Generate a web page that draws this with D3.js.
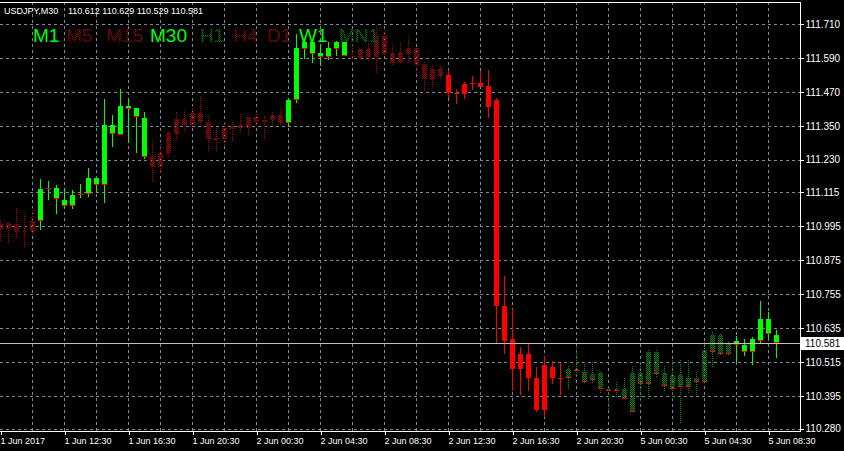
<!DOCTYPE html>
<html>
<head>
<meta charset="utf-8">
<script src="https://cdn.jsdelivr.net/npm/d3@7"></script>
<style>
  body { margin: 0; background: #000; }
  svg { display: block; }
  text { font-family: "Liberation Sans", Arial, sans-serif; }
</style>
</head>
<body>
<script>
// candle data, USDJPY M30, bar 0 = leftmost
var open = [111.006,110.984,111.002,110.977,110.974,111.013,111.129,111.129,111.087,111.066,
  111.105,111.108,111.165,111.140,111.353,111.317,111.420,111.413,111.377,111.243,
  111.204,111.250,111.321,111.374,111.353,111.395,111.363,111.306,111.303,111.338,
  111.342,111.342,111.381,111.363,111.370,111.388,111.360,111.441,111.622,111.646,
  111.607,111.593,111.622,111.646,111.597,111.590,111.622,111.593,111.668,111.607,
  111.572,111.604,111.625,111.568,111.512,111.551,111.530,111.466,111.462,111.498,
  111.501,111.491,111.441,110.712,110.595,110.489,110.545,110.460,110.347,110.499,
  110.460,110.460,110.489,110.478,110.450,110.475,110.421,110.414,110.418,110.340,
  110.475,110.439,110.549,110.475,110.421,110.468,110.425,110.457,110.446,110.552,
  110.609,110.545,110.588,110.574,110.552,110.591,110.666,110.612];
var high = [111.016,111.013,111.062,111.037,111.062,111.161,111.154,111.140,111.129,111.122,
  111.144,111.200,111.165,111.445,111.388,111.480,111.448,111.413,111.399,111.299,
  111.292,111.328,111.402,111.406,111.420,111.455,111.388,111.345,111.363,111.363,
  111.395,111.381,111.406,111.388,111.402,111.416,111.448,111.675,111.660,111.646,
  111.639,111.646,111.650,111.646,111.639,111.622,111.646,111.707,111.689,111.636,
  111.639,111.668,111.629,111.579,111.561,111.561,111.547,111.480,111.505,111.526,
  111.544,111.547,111.448,110.818,110.701,110.567,110.577,110.499,110.535,110.517,
  110.510,110.503,110.570,110.517,110.514,110.478,110.432,110.443,110.460,110.503,
  110.514,110.556,110.556,110.503,110.521,110.521,110.521,110.478,110.591,110.620,
  110.613,110.588,110.606,110.598,110.602,110.729,110.691,110.629];
var low = [110.938,110.935,110.952,110.917,110.963,110.981,111.087,111.037,111.059,111.055,
  111.094,111.098,111.112,111.076,111.275,111.317,111.289,111.253,111.232,111.154,
  111.183,111.239,111.299,111.331,111.349,111.353,111.260,111.257,111.278,111.296,
  111.331,111.317,111.349,111.303,111.349,111.349,111.345,111.430,111.586,111.572,
  111.561,111.583,111.597,111.597,111.583,111.586,111.579,111.533,111.600,111.565,
  111.572,111.572,111.537,111.473,111.487,111.515,111.448,111.427,111.445,111.476,
  111.487,111.377,110.584,110.542,110.414,110.400,110.414,110.340,110.319,110.439,
  110.397,110.421,110.460,110.439,110.436,110.404,110.344,110.390,110.379,110.337,
  110.375,110.383,110.460,110.411,110.383,110.301,110.404,110.397,110.446,110.496,
  110.538,110.535,110.514,110.535,110.506,110.584,110.595,110.529];
var close = [110.984,111.006,110.974,110.976,111.013,111.126,111.128,111.091,111.066,111.105,
  111.108,111.165,111.140,111.353,111.321,111.420,111.409,111.381,111.239,111.204,
  111.253,111.324,111.374,111.353,111.395,111.363,111.303,111.299,111.342,111.345,
  111.353,111.381,111.363,111.370,111.388,111.360,111.441,111.625,111.646,111.604,
  111.593,111.625,111.646,111.597,111.593,111.622,111.593,111.668,111.604,111.572,
  111.607,111.625,111.565,111.515,111.551,111.526,111.466,111.465,111.498,111.501,
  111.487,111.416,110.712,110.591,110.489,110.545,110.457,110.347,110.503,110.460,
  110.459,110.489,110.482,110.446,110.471,110.418,110.414,110.418,110.383,110.475,
  110.439,110.549,110.471,110.429,110.468,110.425,110.457,110.443,110.556,110.609,
  110.545,110.584,110.574,110.552,110.595,110.666,110.613,110.581];
// indicator state per bar: up = lime, wd = weak down, dn = down, wu = weak up
var state = ["wd","wd","wd","wd","wd",
  "up","up","up","up","up","up","up","up","up","up","up","up","up","up",
  "wd","wd","wd","wd","wd","wd","wd","wd","wd","wd","wd","wd","wd","wd","wd","wd","wd",
  "up","up","up","up","up","up","up","up",
  "wd","wd","wd","wd","wd","wd","wd","wd","wd","wd","wd","wd",
  "dn","dn","dn","dn","dn","dn","dn","dn","dn","dn","dn","dn","dn","dn","dn",
  "wu","wu","wu","wu","wu","wu","wu","wu","wu","wu","wu","wu","wu","wu","wu","wu","wu","wu","wu","wu","wu",
  "up","up","up","up","up","up"];

var priceTicks = [111.710,111.590,111.470,111.350,111.230,111.115,110.995,110.875,110.755,110.635,110.515,110.395,110.280];
var timeTicks = [0,8,16,24,32,40,48,56,64,72,80,88,96];
var timeLabels = ["1 Jun 2017","1 Jun 12:30","1 Jun 16:30","1 Jun 20:30","2 Jun 00:30","2 Jun 04:30",
  "2 Jun 08:30","2 Jun 12:30","2 Jun 16:30","2 Jun 20:30","5 Jun 00:30","5 Jun 04:30","5 Jun 08:30"];
var tfNames = ["M1","M5","M15","M30","H1","H4","D1","W1","MN1"];
var tfState = ["up","wd","wd","up","wu","wd","wd","up","wu"];
var symbol = "USDJPY,M30";
var bid = 110.581;

// layout
var W = 844, H = 451, plotR = 800, plotT = 2, plotB = 431;
var tfX = [33,66,106,150,200,233,267,299,339];
var gridColor = "#778899";

var xScale = d3.scaleLinear().domain([0, 100]).range([0, 800]);
var yScale = d3.scaleLinear().domain([110.280, 111.710]).range([428.5, 24]);

var svg = d3.select("body").append("svg")
    .attr("width", W).attr("height", H)
    .attr("shape-rendering", "crispEdges");
svg.append("rect").attr("width", W).attr("height", H).attr("fill", "#000");

// checker fills (MT4 dithered dark colours)
var defs = svg.append("defs");
function checker(id, col) {
    var p = defs.append("pattern").attr("id", id)
        .attr("width", 2).attr("height", 2).attr("patternUnits", "userSpaceOnUse");
    p.append("rect").attr("x", 0).attr("y", 0).attr("width", 1).attr("height", 1).attr("fill", col);
    p.append("rect").attr("x", 1).attr("y", 1).attr("width", 1).attr("height", 1).attr("fill", col);
}
checker("chkR", "#b80000");
checker("chkG", "#009a00");
var fillOf = { up: "#00ff00", dn: "#ff0000", wd: "url(#chkR)", wu: "url(#chkG)" };

// grid
var grid = svg.append("g").attr("stroke", gridColor).attr("stroke-dasharray", "3,3");
grid.selectAll("line.h").data(priceTicks).enter().append("line")
    .attr("x1", 0).attr("x2", plotR)
    .attr("y1", d => Math.round(yScale(d)) + 0.5)
    .attr("y2", d => Math.round(yScale(d)) + 0.5);
grid.selectAll("line.v").data(d3.range(4, 100, 4)).enter().append("line")
    .attr("x1", d => xScale(d) + 0.5).attr("x2", d => xScale(d) + 0.5)
    .attr("y1", plotT).attr("y2", plotB);

// candles
var bars = svg.append("g");
open.forEach(function(o, i) {
    var c = close[i], s = state[i];
    var x = xScale(i);
    var yH = Math.round(yScale(high[i])), yL = Math.round(yScale(low[i]));
    var yT = Math.round(yScale(Math.max(o, c))), yB = Math.round(yScale(Math.min(o, c)));
    var hb = Math.max(1, yB - yT);
    bars.append("rect").attr("x", x).attr("y", yH).attr("width", 1)
        .attr("height", Math.max(1, yL - yH)).attr("fill", fillOf[s]);
    bars.append("rect").attr("x", x - 2).attr("y", yT).attr("width", 5)
        .attr("height", hb).attr("fill", fillOf[s]);
    if (s == "up" || s == "wu") {
        bars.append("rect").attr("x", x - 2).attr("y", yT + hb - 1).attr("width", 5)
            .attr("height", 1).attr("fill", "#ff0000");
    }
});

// bid line
var yBid = Math.round(yScale(bid));
svg.append("line").attr("x1", 0).attr("x2", plotR)
    .attr("y1", yBid + 0.5).attr("y2", yBid + 0.5).attr("stroke", "#c0c0c0");

// frame
svg.append("path").attr("d", "M0," + (plotT + 0.5) + "H" + (plotR + 0.5) + "V" + (plotB + 0.5) + "H0")
    .attr("fill", "none").attr("stroke", "#fff");

// price axis
var yAxis = svg.append("g").attr("transform", "translate(" + (plotR + 0.5) + ",0)")
    .call(d3.axisRight(yScale).tickValues(priceTicks).tickFormat(d3.format(".3f"))
        .tickSize(3).tickPadding(2));
yAxis.select(".domain").remove();
yAxis.selectAll("line").attr("stroke", "#fff");
yAxis.selectAll("text").attr("fill", "#fff").style("font-size", "10px")
    .style("font-family", "'Liberation Sans', Arial, sans-serif");

// bid label
svg.append("rect").attr("x", plotR + 1).attr("y", yBid - 6).attr("width", W - plotR - 1)
    .attr("height", 13).attr("fill", "#fff");
svg.append("text").attr("x", plotR + 5).attr("y", yBid + 4).attr("fill", "#000")
    .style("font-size", "10px").text(d3.format(".3f")(bid));

// time axis
var xAxis = svg.append("g").attr("transform", "translate(0," + (plotB + 0.5) + ")")
    .call(d3.axisBottom(xScale).tickValues(timeTicks).tickFormat((d, i) => timeLabels[i])
        .tickSize(3).tickPadding(3));
xAxis.select(".domain").remove();
xAxis.selectAll("line").attr("stroke", "#fff").attr("transform", "translate(0.5,0)");
xAxis.selectAll("text").attr("fill", "#fff").attr("text-anchor", "start").attr("dx", 0)
    .style("font-size", "9px").style("font-family", "'Liberation Sans', Arial, sans-serif");

// header
svg.append("text").attr("x", 4).attr("y", 14).attr("fill", "#fff").style("font-size", "9px")
    .text(symbol);
svg.append("text").attr("x", 68).attr("y", 14).attr("fill", "#fff").style("font-size", "9px")
    .text([open[97], high[97], low[97], close[97]].map(d3.format(".3f")).join(" "));

// timeframe labels
svg.append("g").selectAll("text").data(tfNames).enter().append("text")
    .attr("x", (d, i) => tfX[i]).attr("y", 42)
    .attr("fill", (d, i) => fillOf[tfState[i]])
    .style("font-size", "19px")
    .text(d => d);
</script>
</body>
</html>
